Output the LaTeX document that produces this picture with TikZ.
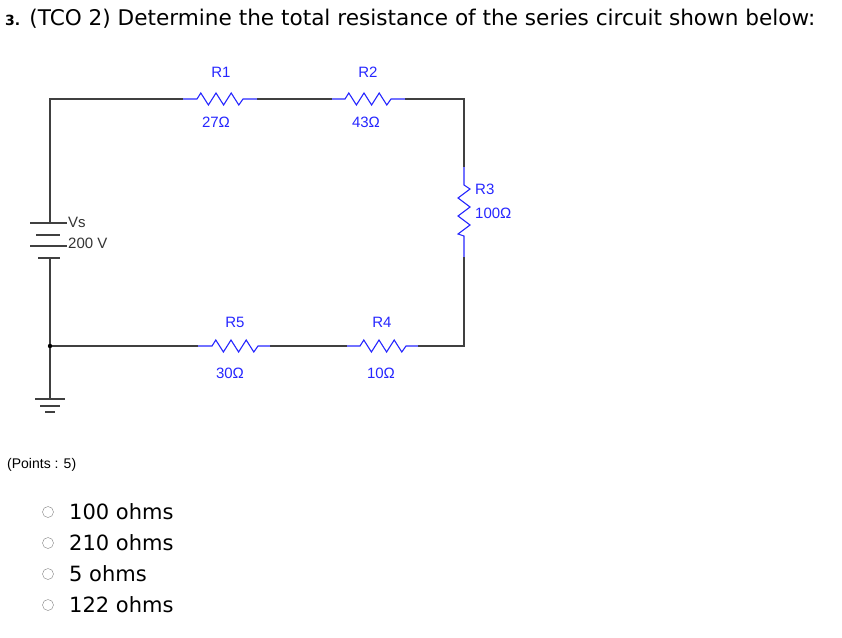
\documentclass[tikz,border=0pt]{standalone}
\usepackage{fontspec}
\setmainfont{DejaVu Sans}
\newfontfamily\arialf{Liberation Sans}
\begin{document}
\begin{tikzpicture}[x=1pt,y=-1pt,
 wire/.style={draw=black!75,line width=1.3pt},
 res/.style={draw=blue!85!white,line width=1.1pt},
 lab/.style={text=blue!85!white,font=\arialf\fontsize{15}{15}\selectfont,inner sep=0pt},
 blab/.style={text=black!80,font=\arialf\fontsize{15}{15}\selectfont,inner sep=0pt,anchor=west},
 opt/.style={font=\fontsize{21}{21}\selectfont,anchor=west,inner sep=0pt},
 radio/.style={draw=black!50,circle,minimum size=11pt,inner sep=0pt}]
\useasboundingbox (0,0) rectangle (842,637);
\node[anchor=west,inner sep=0pt,font=\fontsize{21.6}{22}\selectfont] (title) at (5,19) {{\fontsize{14}{14}\selectfont\bfseries 3.} (TCO 2) Determine the total resistance of the series circuit shown below:};
% wires
\coordinate (tl) at (50,99); \coordinate (tr) at (464,99);
\coordinate (bl) at (50,346); \coordinate (br) at (464,346);
\draw[wire] (50,223) -- (tl) -- (183,99);
\draw[wire] (257,99) -- (332,99);
\draw[wire] (405,99) -- (tr) -- (464,167);
\draw[wire] (464,257) -- (br) -- (418,346);
\draw[wire] (347,346) -- (270,346);
\draw[wire] (198,346) -- (bl);
\draw[wire] (50,258) -- (50,399);
\fill[black] (bl) circle (2.2pt);
% battery
\draw[wire] (30,223) -- (67,223);
\draw[wire] (36,235) -- (60,235);
\draw[wire] (30,246) -- (67,246);
\draw[wire] (38,258) -- (60,258);
\node[blab] (vs) at (68,222) {Vs};
\node[blab] (vv) at (68,243) {200 V};
% ground
\draw[wire] (35,399) -- (65,399);
\draw[wire] (40,406) -- (60,406);
\draw[wire] (45,412) -- (55,412);
% resistors
\draw[res] (183,99) -- (197,99) -- ++(3.8,-6) -- ++(7.6,12) -- ++(7.6,-12) -- ++(7.6,12) -- ++(7.6,-12) -- ++(7.6,12) -- ++(4.2,-6) -- (257,99);
\draw[res] (332,99) -- (345,99) -- ++(3.8,-6) -- ++(7.6,12) -- ++(7.6,-12) -- ++(7.6,12) -- ++(7.6,-12) -- ++(7.6,12) -- ++(4.2,-6) -- (405,99);
\draw[res] (198,346) -- (212,346) -- ++(3.8,-6) -- ++(7.6,12) -- ++(7.6,-12) -- ++(7.6,12) -- ++(7.6,-12) -- ++(7.6,12) -- ++(4.2,-6) -- (270,346);
\draw[res] (347,346) -- (360,346) -- ++(3.8,-6) -- ++(7.6,12) -- ++(7.6,-12) -- ++(7.6,12) -- ++(7.6,-12) -- ++(7.6,12) -- ++(4.2,-6) -- (418,346);
\draw[res] (464,167) -- (464,185) -- ++(6,4) -- ++(-12,9) -- ++(12,9) -- ++(-12,9) -- ++(12,9) -- ++(-12,9) -- ++(6,2) -- (464,257);
% labels
\node[lab] (r1) at (221,72) {R1}; \node[lab] (v1) at (216,122) {27Ω};
\node[lab] (r2) at (368,72) {R2}; \node[lab] (v2) at (366,122) {43Ω};
\node[lab] (r5) at (235,322) {R5}; \node[lab] (v5) at (230,373) {30Ω};
\node[lab] (r4) at (382,322) {R4}; \node[lab] (v4) at (381,373) {10Ω};
\node[lab,anchor=west] (r3) at (475,189) {R3}; \node[lab,anchor=west] (v3) at (475,213) {100Ω};
% points and options
\node[anchor=west,inner sep=0pt,font=\arialf\fontsize{14}{14}\selectfont] (pts) at (7,465) {(Points : 5)};
\foreach \t/\yy [count=\i] in {100 ohms/512, 210 ohms/543, 5 ohms/574, 122 ohms/605}{
 \node[radio] (c\i) at (48,\yy) {};
 \node[opt] (o\i) at (69,\yy) {\t};
}
\end{tikzpicture}
\end{document}
